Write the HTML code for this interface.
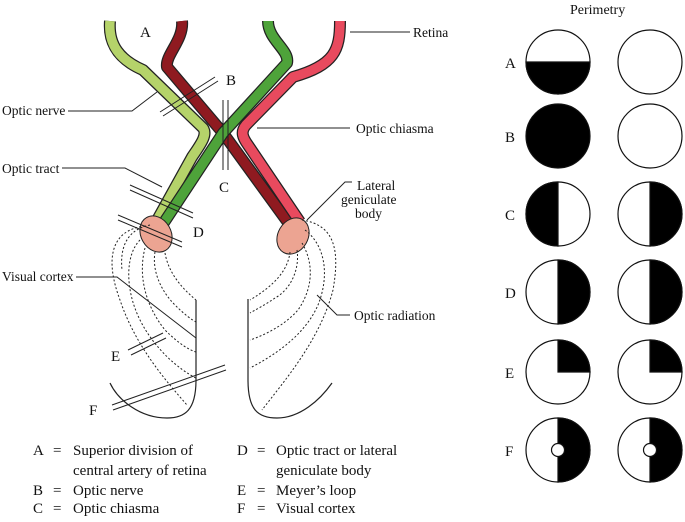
<!DOCTYPE html>
<html><head><style>body{margin:0;background:#fff}svg{display:block}text{font-family:"Liberation Serif",serif;fill:#111}</style></head>
<body>
<svg width="685" height="522" viewBox="0 0 685 522" xmlns="http://www.w3.org/2000/svg">
<g fill="none" stroke-linejoin="round">
<path d="M110,21 C108,45 120,60 143,70 L203,128 C208,135 200,145 192,157 L156,222" stroke="#222" stroke-width="12"/>
<path d="M110,21 C108,45 120,60 143,70 L203,128 C208,135 200,145 192,157 L156,222" stroke="#b5d36a" stroke-width="9.5"/>
<path d="M182,21 C184,40 165,55 167,67 L223,133 L292,228" stroke="#222" stroke-width="12"/>
<path d="M182,21 C184,40 165,55 167,67 L223,133 L292,228" stroke="#8f1a20" stroke-width="9.5"/>
<path d="M268,21 C268,40 290,50 287,63 L223,133 L163,224" stroke="#222" stroke-width="12"/>
<path d="M268,21 C268,40 290,50 287,63 L223,133 L163,224" stroke="#4ea33a" stroke-width="9.5"/>
<path d="M340,21 C340,50 335,65 293,77 L246,125 C240,132 243,138 248,145 L300,222" stroke="#222" stroke-width="12"/>
<path d="M340,21 C340,50 335,65 293,77 L246,125 C240,132 243,138 248,145 L300,222" stroke="#e84a5e" stroke-width="9.5"/>
</g>
<ellipse cx="156" cy="234" rx="15" ry="19" transform="rotate(-30 156 234)" fill="#eca492" stroke="#222" stroke-width="1"/>
<ellipse cx="293" cy="236" rx="15" ry="19" transform="rotate(30 293 236)" fill="#eca492" stroke="#222" stroke-width="1"/>
<g fill="none" stroke="#222" stroke-width="1" stroke-dasharray="2,2">
<path d="M145,226 C110,230 105,260 120,300 C135,345 165,380 187,405"/>
<path d="M140,240 C125,255 125,290 140,320 C155,350 180,370 196,378"/>
<path d="M145,248 C138,275 145,305 165,330 C180,345 190,350 196,352"/>
<path d="M155,252 C152,270 160,290 175,305 C185,315 192,320 196,322"/>
<path d="M165,253 C168,270 178,285 196,300"/>
<path d="M150,225 C125,230 120,250 122,270"/>
</g>
<g fill="none" stroke="#222" stroke-width="1" stroke-dasharray="2,2">
<path d="M302,220 C335,225 340,250 333,290 C320,340 285,380 262,410"/>
<path d="M305,230 C325,245 330,275 318,305 C305,335 275,355 250,368"/>
<path d="M302,243 C315,265 312,290 298,310 C285,325 265,335 250,340"/>
<path d="M297,250 C300,270 290,290 275,298 C265,305 255,310 250,313"/>
<path d="M290,252 C288,270 275,285 250,300"/>
</g>
<g fill="none" stroke="#222" stroke-width="1.2">
<path d="M196,300 L196,380 C196,410 185,418 167,418 C140,418 118,400 110,383"/>
<path d="M248,299 L248,380 C248,410 258,418 277,418 C300,418 320,400 332,383"/>
</g>
<g fill="none" stroke="#222" stroke-width="1">
<path d="M160,112 L215,77 M163,116 L218,81"/>
<path d="M223,100 L223,170 M228,100 L228,170"/>
<path d="M130,185 L193,213 M130,190 L193,218"/>
<path d="M118,215 L182,242 M118,220 L182,247"/>
<path d="M128,350 L163,333 M131,355 L166,338"/>
<path d="M112,405 L225,365 M113,410 L226,370"/>
<path d="M68,111 L132,111 L157,92"/>
<path d="M257,128 L350,128"/>
<path d="M62,168 L125,168 L162,187"/>
<path d="M307,220 L345,182 L352,182"/>
<path d="M350,32 L410,32"/>
<path d="M76,277 L117,277 L196,338"/>
<path d="M317,295 L337,315 L350,315"/>
</g>
<g font-size="15">
<text x="140" y="37">A</text>
<text x="226" y="85">B</text>
<text x="219" y="192">C</text>
<text x="193" y="237">D</text>
<text x="111" y="361">E</text>
<text x="89" y="415">F</text>
</g>
<g font-size="13.5">
<text x="2" y="115">Optic nerve</text>
<text x="2" y="173">Optic tract</text>
<text x="2" y="281">Visual cortex</text>
<text x="413" y="37">Retina</text>
<text x="356" y="133">Optic chiasma</text>
<text x="357" y="190">Lateral</text>
<text x="341" y="204">geniculate</text>
<text x="355" y="218">body</text>
<text x="354" y="320">Optic radiation</text>
</g>
<g font-size="15">
<text x="33" y="455">A</text><text x="53" y="455">=</text><text x="73" y="455">Superior division of</text>
<text x="73" y="475">central artery of retina</text>
<text x="33" y="495">B</text><text x="53" y="495">=</text><text x="73" y="495">Optic nerve</text>
<text x="33" y="513">C</text><text x="53" y="513">=</text><text x="73" y="513">Optic chiasma</text>
<text x="237" y="455">D</text><text x="257" y="455">=</text><text x="276" y="455">Optic tract or lateral</text>
<text x="276" y="475">geniculate body</text>
<text x="237" y="495">E</text><text x="257" y="495">=</text><text x="276" y="495">Meyer’s loop</text>
<text x="237" y="513">F</text><text x="257" y="513">=</text><text x="276" y="513">Visual cortex</text>
</g>
<text x="570" y="14" font-size="14">Perimetry</text>
<g font-size="15">
<text x="505" y="68">A</text><text x="505" y="142">B</text><text x="505" y="220">C</text>
<text x="505" y="298">D</text><text x="505" y="378">E</text><text x="505" y="456">F</text>
</g>
<g stroke="#111" stroke-width="1.2">
<circle cx="558" cy="62" r="32" fill="#fff"/>
<path d="M526,62 L590,62 A32,32 0 0 1 526,62 Z" fill="#000"/>
<circle cx="650" cy="62" r="32" fill="#fff"/>
<circle cx="558" cy="136" r="32" fill="#000"/>
<circle cx="650" cy="136" r="32" fill="#fff"/>
<circle cx="558" cy="214" r="32" fill="#fff"/>
<path d="M558,182 A32,32 0 0 0 558,246 Z" fill="#000"/>
<circle cx="650" cy="214" r="32" fill="#fff"/>
<path d="M650,182 A32,32 0 0 1 650,246 Z" fill="#000"/>
<circle cx="558" cy="292" r="32" fill="#fff"/>
<path d="M558,260 A32,32 0 0 1 558,324 Z" fill="#000"/>
<circle cx="650" cy="292" r="32" fill="#fff"/>
<path d="M650,260 A32,32 0 0 1 650,324 Z" fill="#000"/>
<circle cx="558" cy="372" r="32" fill="#fff"/>
<path d="M558,372 L558,340 A32,32 0 0 1 590,372 Z" fill="#000"/>
<circle cx="650" cy="372" r="32" fill="#fff"/>
<path d="M650,372 L650,340 A32,32 0 0 1 682,372 Z" fill="#000"/>
<circle cx="558" cy="450" r="32" fill="#fff"/>
<path d="M558,418 A32,32 0 0 1 558,482 Z" fill="#000"/>
<circle cx="558" cy="450" r="6.5" fill="#fff"/>
<circle cx="650" cy="450" r="32" fill="#fff"/>
<path d="M650,418 A32,32 0 0 1 650,482 Z" fill="#000"/>
<circle cx="650" cy="450" r="6.5" fill="#fff"/>
</g>
</svg>
</body></html>
